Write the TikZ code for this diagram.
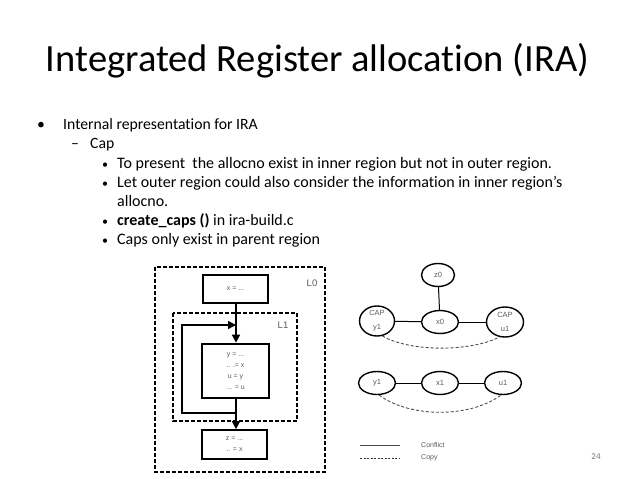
\documentclass[tikz,border=0pt]{standalone}
\usepackage{fontspec}
\setmainfont{Carlito}[RawFeature=-liga]
\newfontfamily\diag{Liberation Sans}
\usetikzlibrary{arrows.meta,shapes.geometric}
\definecolor{dtext}{RGB}{90,90,90}
\definecolor{pgnum}{RGB}{120,120,120}
\tikzset{
  body/.style={anchor=base west, font=\fontsize{15.7}{18}\selectfont, inner sep=0pt},
  subbody/.style={anchor=base west, font=\fontsize{16}{18}\selectfont, inner sep=0pt},
  bul/.style={anchor=base, font=\fontsize{15.7}{18}\selectfont, inner sep=0pt},
  subbul/.style={anchor=base, font=\fontsize{12}{14}\selectfont, inner sep=0pt},
  cfgbox/.style={draw, line width=1.6pt, inner sep=0pt},
  thickbox/.style={draw, line width=2.6pt, inner sep=0pt},
  region/.style={draw, line width=2pt, dash pattern=on 4pt off 2pt},
  small/.style={font=\diag\fontsize{7}{8}\selectfont, text=dtext, inner sep=0pt},
  gnode/.style={draw, ellipse, line width=1.4pt, font=\diag\fontsize{7.5}{8}\selectfont, text=dtext, inner sep=0pt, align=center},
  conf/.style={line width=1pt},
  copyedge/.style={line width=0.9pt, dash pattern=on 3pt off 2pt, draw=black!70},
  flow/.style={line width=1.4pt, -{Triangle[length=8pt,width=8pt]}},
}
\begin{document}
\begin{tikzpicture}[x=1pt,y=-1pt]
\useasboundingbox (0,0) rectangle (638,479);
% title
\node[anchor=base, font=\fontsize{38.5}{44}\selectfont, inner sep=0pt] (title) at (317.5,71.7) {Integrated Register allocation (IRA)};
% bullets
\node[bul] (b1) at (41,129.5) {•};
\node[body] (t1) at (63,129.5) {Internal representation for IRA};
\node[bul] (b2) at (75,148) {–};
\node[body] (t2) at (90,148) {Cap};
\node[subbul] (b3) at (105,168) {•};
\node[subbody] (t3) at (117,168) {To present\ \ the allocno exist in inner region but not in outer region.};
\node[subbul] (b4) at (105,187) {•};
\node[subbody] (t4) at (117,187) {Let outer region could also consider the information in inner region’s};
\node[subbody] (t4b) at (117,206) {allocno.};
\node[subbul] (b5) at (105,225) {•};
\node[subbody] (t5) at (117,225) {\textbf{create\_caps ()} in ira-build.c};
\node[subbul] (b6) at (105,244) {•};
\node[subbody] (t6) at (117,244) {Caps only exist in parent region};
% CFG
\draw[region] (155,267) rectangle (325,472);
\node[small, font=\diag\fontsize{9.5}{10}\selectfont] (l0) at (312,283) {L0};
\draw[region] (173,313) rectangle (297,421);
\node[small, font=\diag\fontsize{9.5}{10}\selectfont] (l1) at (283,325) {L1};
\node[cfgbox, minimum width=65pt, minimum height=28pt] (bx) at (235.5,289) {};
\node[small] (bxt) at (bx) {x = ...};
\node[thickbox, minimum width=67pt, minimum height=54pt] (by) at (235.5,371) {};
\node[small, align=center] (byt) at (by) {y = ...\\[3pt] .. .= x\\[3pt] u = y\\[3pt] ... = u};
\node[cfgbox, minimum width=65pt, minimum height=29pt] (bz) at (234.5,444.5) {};
\node[small, align=center] (bzt) at (bz) {z = ...\\[3pt] .. = x};
\coordinate (lp1) at (236,413);
\coordinate (lp2) at (182,413);
\coordinate (lp3) at (182,325);
\coordinate (lp4) at (236,325);
\draw[flow] (bx.south -| lp4) -- (by.north -| lp4);
\draw[flow] (by.south -| lp1) -- (bz.north -| lp1);
\draw[flow] (by.south -| lp1) -- (lp1) -- (lp2) -- (lp3) -- (lp4);
% interference graph top
\node[gnode, minimum width=33pt, minimum height=23pt] (z0) at (438,275) {z0};
\node[gnode, minimum width=37pt, minimum height=23pt] (x0) at (440,322) {x0};
\node[gnode, minimum width=35pt, minimum height=30pt] (cy1) at (377,321) {CAP\\[6pt]y1};
\node[gnode, minimum width=37pt, minimum height=30pt] (cu1) at (505,322) {CAP\\[6pt]u1};
\draw[conf] (z0) -- (x0);
\draw[conf] (cy1) -- (x0);
\draw[conf] (x0) -- (cu1);
\draw[copyedge] (cy1.-70) .. controls (410,352) and (470,352) .. (cu1.-110);
% interference graph bottom
\node[gnode, minimum width=37pt, minimum height=23pt] (y1) at (377,383) {y1};
\node[gnode, minimum width=37pt, minimum height=23pt] (x1) at (440,383) {x1};
\node[gnode, minimum width=37pt, minimum height=23pt] (u1) at (503,383) {u1};
\draw[conf] (y1) -- (x1);
\draw[conf] (x1) -- (u1);
\draw[copyedge] (y1.-80) .. controls (410,418) and (470,418) .. (u1.-100);
% legend
\coordinate (la) at (360,445);
\coordinate (lb) at (400,445);
\coordinate (lc) at (360,458);
\coordinate (ld) at (400,458);
\draw[line width=0.8pt, draw=black!70] (la) -- (lb);
\draw[line width=1pt, dash pattern=on 2pt off 1.5pt, draw=black!80] (lc) -- (ld);
\node[small, anchor=west] (lconf) at (421,445) {Conflict};
\node[small, anchor=west] (lcopy) at (421,458) {Copy};
% page number
\node[font=\fontsize{9}{10}\selectfont, text=pgnum, inner sep=0pt] (pg) at (596,457) {24};
\end{tikzpicture}
\end{document}
